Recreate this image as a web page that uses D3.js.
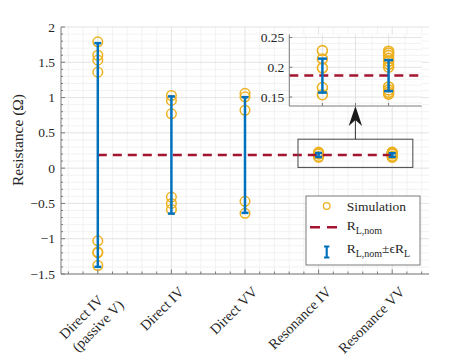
<!DOCTYPE html>
<html><head><meta charset="utf-8">
<script src="https://cdn.jsdelivr.net/npm/d3@7"></script>
<style>
body{margin:0;background:#fff}
svg{display:block}
text{font-family:"Liberation Serif","Times New Roman",serif;fill:#262626}
</style>
</head><body>
<svg id="c" width="474" height="355"></svg>
<script>
// ---------------- data ----------------
const categories = [["Direct IV","(passive V)"],["Direct IV"],["Direct VV"],["Resonance IV"],["Resonance VV"]];
const simDirectIVPassive = [1.79, 1.60, 1.53, 1.36, -1.03, -1.19, -1.20, -1.38];
const simDirectIV = [1.03, 0.96, 0.77, -0.41, -0.50, -0.585];
const simDirectVV = [1.06, 1.01, 0.82, -0.47, -0.64];
const simResonanceIV = [0.228, 0.214, 0.199, 0.166, 0.154];
const simResonanceVV = [0.227, 0.224, 0.220, 0.215, 0.210, 0.205, 0.200, 0.167, 0.162, 0.158, 0.155];
const simulation = [simDirectIVPassive, simDirectIV, simDirectVV, simResonanceIV, simResonanceVV];
const nominalR = 0.186;
const errHalf = [1.585, 0.83, 0.82, 0.0285, 0.026];
const yTicks = [-1.5, -1, -0.5, 0, 0.5, 1, 1.5, 2];
const insetYTicks = [0.15, 0.2, 0.25];
const insetXTicks = [4, 4.5, 5];
const zoomBox = {x0: 3.72, x1: 5.28, y0: 0.01, y1: 0.41};
const legendLabels = ["Simulation", "R_nom", "R_err"];

// ---------------- setup ----------------
const svg = d3.select("#c");
const C_SIM = "#EDB120", C_NOM = "#A2142F", C_ERR = "#0072BD";
const AX = "#7a7a7a";
const x = d3.scaleLinear().domain([0.5, 5.5]).range([61, 429]);
const y = d3.scaleLinear().domain([-1.5, 2]).range([274, 27]);
const xi = d3.scaleLinear().domain([3.5, 5.5]).range([289.3, 421.7]);
const yi = d3.scaleLinear().domain([0.135, 0.255]).range([106, 34.5]);
const fmt = v => String(v).replace("-", "\u2212");

function drawGrid(g, xs, ys, xMinor, yMinor, xMajor, yMajor) {
  const [x0, x1] = xs.range(), [y0, y1] = ys.range();
  g.selectAll(".gmx").data(xMinor).join("line")
    .attr("x1", d => xs(d)).attr("x2", d => xs(d)).attr("y1", y0).attr("y2", y1)
    .attr("stroke", "#efefef").attr("stroke-width", 0.8);
  g.selectAll(".gmy").data(yMinor).join("line")
    .attr("y1", d => ys(d)).attr("y2", d => ys(d)).attr("x1", x0).attr("x2", x1)
    .attr("stroke", "#efefef").attr("stroke-width", 0.8);
  g.selectAll(".gMx").data(xMajor).join("line")
    .attr("x1", d => xs(d)).attr("x2", d => xs(d)).attr("y1", y0).attr("y2", y1)
    .attr("stroke", "#dcdcdc").attr("stroke-width", 0.8);
  g.selectAll(".gMy").data(yMajor).join("line")
    .attr("y1", d => ys(d)).attr("y2", d => ys(d)).attr("x1", x0).attr("x2", x1)
    .attr("stroke", "#dcdcdc").attr("stroke-width", 0.8);
}

// main grid
const xMinorMain = d3.range(0.6, 5.45, 0.2).filter(v => Math.abs(v - Math.round(v)) > 0.01);
const yMinorMain = d3.range(-1.4, 2.0, 0.1).filter(v => Math.abs(v * 2 - Math.round(v * 2)) > 0.01);
drawGrid(svg.append("g").selectAll("x").data([0]).join("g"), x, y, xMinorMain, yMinorMain, [1,2,3,4,5], yTicks);

// main data: circles, nominal line, error bars
const flat = simulation.flatMap((arr, i) => arr.map(v => ({c: i + 1, v})));
const gMain = svg.append("g");
gMain.selectAll("circle").data(flat).join("circle")
  .attr("cx", d => x(d.c)).attr("cy", d => y(d.v)).attr("r", 4.8)
  .attr("fill", "none").attr("stroke", C_SIM).attr("stroke-width", 1.5);
gMain.append("line").attr("x1", x(1)).attr("x2", x(5)).attr("y1", y(nominalR)).attr("y2", y(nominalR))
  .attr("stroke", C_NOM).attr("stroke-width", 2.5).attr("stroke-dasharray", "9,6");
function errBars(g, xs, ys, capHalf) {
  errHalf.forEach((h, i) => {
    const cx = xs(i + 1);
    const lo = ys(nominalR - h), hi = ys(nominalR + h);
    g.append("line").attr("x1", cx).attr("x2", cx).attr("y1", lo).attr("y2", hi)
      .attr("stroke", C_ERR).attr("stroke-width", 2.5);
    [lo, hi].forEach(yy => g.append("line").attr("x1", cx - capHalf).attr("x2", cx + capHalf)
      .attr("y1", yy).attr("y2", yy).attr("stroke", C_ERR).attr("stroke-width", 2.5));
  });
}
errBars(gMain, x, y, 3.5);

// main axes
const axG = svg.append("g");
axG.append("line").attr("x1", 61).attr("x2", 61).attr("y1", y(2)).attr("y2", y(-1.5)).attr("stroke", AX);
axG.append("line").attr("x1", 61).attr("x2", 429).attr("y1", 274).attr("y2", 274).attr("stroke", AX);
yTicks.forEach(t => {
  axG.append("line").attr("x1", 61).attr("x2", 65).attr("y1", y(t)).attr("y2", y(t)).attr("stroke", AX);
  axG.append("text").attr("x", 55).attr("y", y(t)).attr("text-anchor", "end")
    .attr("dominant-baseline", "central").attr("font-size", 13.5).text(fmt(t));
});
yMinorMain.forEach(t => axG.append("line").attr("x1", 61).attr("x2", 63).attr("y1", y(t)).attr("y2", y(t)).attr("stroke", AX));
[1,2,3,4,5].forEach(t => axG.append("line").attr("x1", x(t)).attr("x2", x(t)).attr("y1", 274).attr("y2", 269.5).attr("stroke", AX));
xMinorMain.forEach(t => axG.append("line").attr("x1", x(t)).attr("x2", x(t)).attr("y1", 274).attr("y2", 271.5).attr("stroke", AX));

// x tick labels (rotated)
categories.forEach((lines, i) => {
  const n = lines.length, extra = (n - 1) * 7;
  const g = svg.append("g").attr("transform", `translate(${x(i + 1) + 10 + extra},${289 + extra}) rotate(-45)`);
  const ts = lines.map((s, j) => g.append("text").attr("font-size", 14.5)
    .attr("dominant-baseline", "central").attr("y", (j - (n - 1) / 2) * 18).text(s));
  const maxW = d3.max(ts, t => t.node().getComputedTextLength());
  ts.forEach(t => t.attr("x", -maxW));
});

// y label
svg.append("text").attr("transform", "translate(23,140) rotate(-90)").attr("text-anchor", "middle")
  .attr("font-size", 15.5).text("Resistance (\u03A9)");

// zoom box + arrow
svg.append("rect").attr("x", x(zoomBox.x0)).attr("y", y(zoomBox.y1))
  .attr("width", x(zoomBox.x1) - x(zoomBox.x0)).attr("height", y(zoomBox.y0) - y(zoomBox.y1))
  .attr("fill", "none").attr("stroke", "#555").attr("stroke-width", 1.1);

// ---------------- inset ----------------
const [ix0, ix1] = xi.range(), [iy0, iy1] = yi.range();
svg.append("rect").attr("x", ix0).attr("y", iy1).attr("width", ix1 - ix0).attr("height", iy0 - iy1).attr("fill", "#fff");
const xMinorIn = d3.range(3.75, 5.5, 0.25).filter(v => !insetXTicks.some(t => Math.abs(t - v) < 1e-6));
const yMinorIn = d3.range(0.14, 0.255, 0.01).filter(v => !insetYTicks.some(t => Math.abs(t - v) < 1e-6));
drawGrid(svg.append("g"), xi, yi, xMinorIn, yMinorIn, insetXTicks, insetYTicks);
const gIn = svg.append("g");
const flatIn = flat.filter(d => d.c >= 4);
gIn.selectAll("circle").data(flatIn).join("circle")
  .attr("cx", d => xi(d.c)).attr("cy", d => yi(d.v)).attr("r", 5)
  .attr("fill", "none").attr("stroke", C_SIM).attr("stroke-width", 1.6);
gIn.append("line").attr("x1", ix0).attr("x2", ix1).attr("y1", yi(nominalR)).attr("y2", yi(nominalR))
  .attr("stroke", C_NOM).attr("stroke-width", 2.5).attr("stroke-dasharray", "9,6");
const gInErr = svg.append("g");
errHalf.forEach((h, i) => {
  if (i < 3) return;
  const cx = xi(i + 1), lo = yi(nominalR - h), hi = yi(nominalR + h);
  gInErr.append("line").attr("x1", cx).attr("x2", cx).attr("y1", lo).attr("y2", hi).attr("stroke", C_ERR).attr("stroke-width", 2.5);
  [lo, hi].forEach(yy => gInErr.append("line").attr("x1", cx - 4.5).attr("x2", cx + 4.5)
    .attr("y1", yy).attr("y2", yy).attr("stroke", C_ERR).attr("stroke-width", 2.5));
});
// inset axes
svg.append("line").attr("x1", ix0).attr("x2", ix0).attr("y1", iy0).attr("y2", iy1).attr("stroke", AX);
svg.append("line").attr("x1", ix0).attr("x2", ix1).attr("y1", iy0).attr("y2", iy0).attr("stroke", AX);
insetYTicks.forEach(t => {
  svg.append("line").attr("x1", ix0).attr("x2", ix0 + 3).attr("y1", yi(t)).attr("y2", yi(t)).attr("stroke", AX);
  svg.append("text").attr("x", ix0 - 5).attr("y", yi(t)).attr("text-anchor", "end")
    .attr("dominant-baseline", "central").attr("font-size", 13.5).text(fmt(t));
});
insetXTicks.forEach(t => svg.append("line").attr("x1", xi(t)).attr("x2", xi(t)).attr("y1", iy0).attr("y2", iy0 - 3).attr("stroke", AX));

// arrow from zoom box to inset
const ax = x(4.5);
svg.append("line").attr("x1", ax).attr("x2", ax).attr("y1", y(zoomBox.y1)).attr("y2", iy0 + 8).attr("stroke", "#1a1a1a").attr("stroke-width", 0.9);
svg.append("path").attr("d", `M${ax},${iy0} L${ax + 6.7},${iy0 + 20} L${ax},${iy0 + 14} L${ax - 6.7},${iy0 + 20} Z`).attr("fill", "#1a1a1a");

// ---------------- legend ----------------
const lg = svg.append("g");
lg.append("rect").attr("x", 306).attr("y", 196).attr("width", 114).attr("height", 69)
  .attr("fill", "#fff").attr("stroke", "#6e6e6e").attr("stroke-width", 0.9);
lg.append("circle").attr("cx", 326.7).attr("cy", 206).attr("r", 3.3).attr("fill", "none").attr("stroke", C_SIM).attr("stroke-width", 1.3);
lg.append("text").attr("x", 346.7).attr("y", 210.5).attr("font-size", 13.5).text(legendLabels[0]);
lg.append("line").attr("x1", 310).attr("x2", 337).attr("y1", 227.3).attr("y2", 227.3)
  .attr("stroke", C_NOM).attr("stroke-width", 2.5).attr("stroke-dasharray", "10,7");
const t2 = lg.append("text").attr("x", 346.7).attr("y", 229.5).attr("font-size", 13.5);
t2.append("tspan").text("R");
t2.append("tspan").attr("font-size", 10).attr("dy", 4.5).text("L,nom");
lg.append("line").attr("x1", 326.7).attr("x2", 326.7).attr("y1", 246.5).attr("y2", 257.5).attr("stroke", C_ERR).attr("stroke-width", 2.2);
[246.5, 257.5].forEach(yy => lg.append("line").attr("x1", 324).attr("x2", 329.4).attr("y1", yy).attr("y2", yy).attr("stroke", C_ERR).attr("stroke-width", 2));
const t3 = lg.append("text").attr("x", 346.7).attr("y", 252.5).attr("font-size", 13.5);
t3.append("tspan").text("R");
t3.append("tspan").attr("font-size", 10).attr("dy", 4.5).text("L,nom");
t3.append("tspan").attr("dy", -4.5).text("\u00B1\u03F5R");
t3.append("tspan").attr("font-size", 10).attr("dy", 4.5).text("L");
</script>
</body></html>
